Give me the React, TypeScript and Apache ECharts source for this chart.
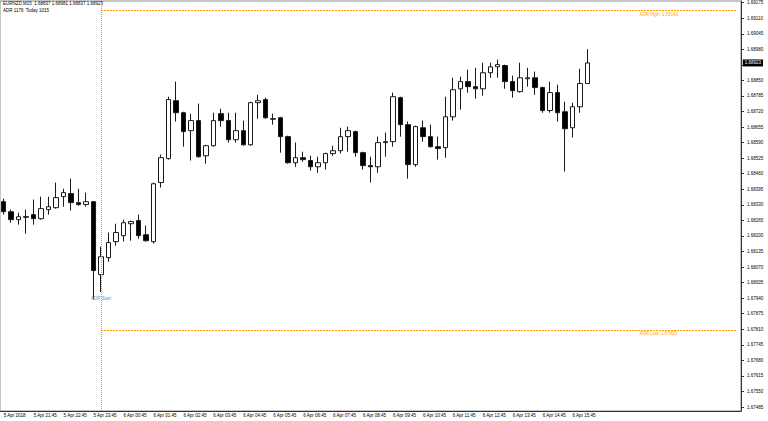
import React, { useEffect, useRef } from "react";
import * as echarts from "echarts";

const FONT = "'Liberation Sans', Arial, sans-serif";

const SYMBOL = "EURNZD,M15";
const ADR_POINTS = 1176;
const TODAY_POINTS = 1015;
const ADR_HIGH = 1.69142;
const ADR_LOW = 1.67805;
const ADR_START = 13; // bar index of 6 Apr 00:00

// 15 minute bars, 5 Apr 20:45 .. 6 Apr 16:15
const OPEN = [
  1.68343, 1.68301, 1.68268, 1.6828, 1.68289, 1.68272, 1.6831, 1.68318, 1.68364, 1.68377,
  1.68339, 1.68331, 1.68343, 1.68038, 1.68109, 1.68176, 1.68201, 1.68251, 1.68264, 1.68205,
  1.68176, 1.68423, 1.68523, 1.68765, 1.68715, 1.6864, 1.68682, 1.68535, 1.68577, 1.68711,
  1.68682, 1.68602, 1.6864, 1.68581, 1.68757, 1.6877, 1.6869, 1.68694, 1.68615, 1.68506,
  1.68527, 1.68515, 1.68489, 1.68506, 1.68544, 1.68556, 1.68615, 1.68636, 1.68548, 1.68494,
  1.68489, 1.6859, 1.68594, 1.68778, 1.68665, 1.68498, 1.68652, 1.68615, 1.68573, 1.68569,
  1.68698, 1.68815, 1.68845, 1.68824, 1.68815, 1.68882, 1.68907, 1.68912, 1.68845, 1.68803,
  1.68857, 1.68861, 1.6882, 1.68724, 1.68799, 1.68719, 1.68652, 1.6874, 1.68837,
];
const HIGH = [
  1.68356, 1.6831, 1.68297, 1.6831, 1.68352, 1.68364, 1.68364, 1.68423, 1.68397, 1.68439,
  1.68397, 1.68381, 1.68345, 1.68155, 1.68214, 1.68251, 1.68268, 1.68264, 1.68289, 1.68243,
  1.68423, 1.6854, 1.68782, 1.68845, 1.68719, 1.68711, 1.68753, 1.68581, 1.68715, 1.68732,
  1.68715, 1.68715, 1.68682, 1.68761, 1.6879, 1.68778, 1.68711, 1.68698, 1.68619, 1.6859,
  1.68552, 1.68535, 1.68531, 1.68548, 1.68577, 1.68652, 1.68657, 1.6864, 1.68552, 1.68531,
  1.68615, 1.68632, 1.68799, 1.68782, 1.68678, 1.68661, 1.68682, 1.68665, 1.68615, 1.68782,
  1.68861, 1.68866, 1.68895, 1.68903, 1.68924, 1.68924, 1.68937, 1.68916, 1.6887, 1.68924,
  1.68903, 1.68887, 1.68824, 1.68845, 1.68832, 1.68761, 1.68757, 1.68899, 1.68981,
];
const LOW = [
  1.68289, 1.68255, 1.68247, 1.68209, 1.68247, 1.68268, 1.68289, 1.68314, 1.68322, 1.68306,
  1.68326, 1.68322, 1.67934, 1.67966, 1.68092, 1.68159, 1.68176, 1.6818, 1.68188, 1.68176,
  1.68168, 1.68402, 1.68519, 1.68678, 1.68573, 1.68515, 1.68527, 1.68502, 1.68573, 1.68657,
  1.6859, 1.6859, 1.68577, 1.68577, 1.6869, 1.6869, 1.68665, 1.68548, 1.68502, 1.68489,
  1.6851, 1.68473, 1.68464, 1.68477, 1.68535, 1.68544, 1.68552, 1.68531, 1.68477, 1.68423,
  1.68464, 1.68531, 1.68573, 1.68615, 1.68439, 1.68489, 1.68594, 1.68569, 1.68519, 1.68527,
  1.68682, 1.68728, 1.68799, 1.68774, 1.68786, 1.68861, 1.68861, 1.68815, 1.68778, 1.68799,
  1.68824, 1.6879, 1.68715, 1.68715, 1.68678, 1.68469, 1.68611, 1.68715, 1.68837,
];
const CLOSE = [
  1.68301, 1.68268, 1.6828, 1.68278, 1.68272, 1.68314, 1.68322, 1.6836, 1.68381, 1.68339,
  1.68331, 1.68343, 1.68055, 1.68113, 1.68172, 1.68214, 1.68255, 1.6826, 1.68201, 1.6818,
  1.68418, 1.68527, 1.6877, 1.68715, 1.68636, 1.68682, 1.68531, 1.68577, 1.68682, 1.68682,
  1.68602, 1.6864, 1.68581, 1.68757, 1.68765, 1.68694, 1.68688, 1.68615, 1.68506, 1.68527,
  1.68519, 1.68489, 1.68506, 1.68544, 1.68556, 1.68615, 1.6864, 1.68548, 1.68494, 1.68489,
  1.6859, 1.68594, 1.68782, 1.68665, 1.68498, 1.68657, 1.68615, 1.68573, 1.68565, 1.68698,
  1.68811, 1.68845, 1.68824, 1.68815, 1.68882, 1.68907, 1.68916, 1.68845, 1.68807, 1.68861,
  1.68861, 1.6882, 1.68724, 1.68799, 1.68715, 1.68648, 1.6874, 1.68837, 1.68923,
];

// price scale
const AXIS_MIN = 1.67468;
const AXIS_MAX = 1.69182;
const LABEL_MIN = 1.67485;
const LABEL_STEP = 0.00065;

const EMPTY_SLOTS = 20; // room on the right of the last bar
const pad = (n: number) => String(n).padStart(2, "0");
const CATS = Array.from({ length: OPEN.length + EMPTY_SLOTS }, (_, i) => {
  const t = 20 * 60 + 45 + i * 15;
  const day = 5 + Math.floor(t / 1440);
  const m = t % 1440;
  return `${day} Apr ${pad(Math.floor(m / 60))}:${pad(m % 60)}`;
});

const App = () => {
  const chartRef = useRef<HTMLDivElement>(null);

  useEffect(() => {
    if (!chartRef.current) return;
    const chart = echarts.init(chartRef.current, null, { renderer: "svg" });

    const last = OPEN.length - 1;
    const lastClose = CLOSE[last];
    const hourly = (i: number) => i % 4 === 0 && i <= last;
    const fmt = (v: number) => v.toFixed(5);
    const small = { fontSize: 4.5, fontFamily: FONT };
    const adrLine = { color: "#ff9900", type: [2, 1], width: 1, opacity: 1 };

    const option = {
      animation: false,
      backgroundColor: "#fff",
      textStyle: { fontFamily: FONT },
      graphic: [
        {
          type: "text",
          left: 3,
          top: 1,
          style: {
            text: `${SYMBOL}  ${fmt(OPEN[last])} ${fmt(HIGH[last])} ${fmt(LOW[last])} ${fmt(lastClose)}`,
            ...small,
            fill: "#000",
          },
        },
        {
          type: "text",
          left: 3,
          top: 8,
          style: { text: `ADR ${ADR_POINTS}  Today ${TODAY_POINTS}`, ...small, fill: "#000" },
        },
      ],
      grid: [
        { left: 0, right: 27, top: 1, bottom: 10, show: true, borderColor: "#8c8c8c", borderWidth: 1 },
        { left: 0, right: 27, top: 1, bottom: 14 },
      ],
      xAxis: [
        {
          type: "category",
          gridIndex: 0,
          data: CATS,
          boundaryGap: true,
          axisLine: { lineStyle: { color: "#333", width: 1 } },
          axisTick: { alignWithLabel: true, interval: hourly, length: 3, lineStyle: { color: "#333" } },
          axisLabel: {
            interval: hourly,
            formatter: (v: string, i: number) => (i === 0 ? "5 Apr 2018" : v),
            align: "left",
            margin: 2,
            color: "#000",
            ...small,
          },
          splitLine: { show: false },
        },
        { type: "category", gridIndex: 1, show: false, data: [""] },
      ],
      yAxis: [
        {
          type: "value",
          gridIndex: 0,
          position: "right",
          min: AXIS_MIN,
          max: AXIS_MAX,
          axisLine: { show: true, onZero: false, lineStyle: { color: "#333", width: 1 } },
          axisTick: { show: false },
          axisLabel: { show: false },
          splitLine: { show: false },
        },
        {
          type: "value",
          gridIndex: 1,
          position: "right",
          min: LABEL_MIN,
          max: AXIS_MAX,
          interval: LABEL_STEP,
          axisLine: { show: false, onZero: false },
          axisTick: { show: true, length: 3, lineStyle: { color: "#333" } },
          axisLabel: {
            showMaxLabel: false,
            margin: 6,
            color: "#000",
            ...small,
            formatter: (v: number) => (Math.abs(v - lastClose) < 0.0003 ? "" : fmt(v)),
          },
          splitLine: { show: false },
        },
      ],
      series: [
        {
          type: "candlestick",
          xAxisIndex: 0,
          yAxisIndex: 0,
          barWidth: 5,
          data: OPEN.map((o, i) => [o, CLOSE[i], LOW[i], HIGH[i]]),
          itemStyle: {
            color: "#fff",
            color0: "#000",
            borderColor: "#1a1a1a",
            borderColor0: "#1a1a1a",
            borderWidth: 1,
          },
          markLine: {
            silent: true,
            symbol: ["none", "none"],
            label: { show: false },
            lineStyle: adrLine,
            data: [
              [
                { coord: [CATS[ADR_START], ADR_HIGH], lineStyle: adrLine },
                { coord: [CATS[CATS.length - 1], ADR_HIGH], lineStyle: adrLine },
              ],
              [
                { coord: [CATS[ADR_START], ADR_LOW], lineStyle: adrLine },
                { coord: [CATS[CATS.length - 1], ADR_LOW], lineStyle: adrLine },
              ],
              {
                xAxis: CATS[ADR_START],
                lineStyle: { color: "#a0a0a0", type: "dotted", width: 1 },
              },
            ],
          },
          markPoint: {
            silent: true,
            symbol: "rect",
            symbolSize: 1,
            itemStyle: { color: "rgba(0,0,0,0)" },
            data: [
              {
                coord: [CATS[85], ADR_HIGH],
                label: {
                  formatter: `ADR High: ${fmt(ADR_HIGH)}`,
                  position: [0, 1.5],
                  align: "left",
                  verticalAlign: "top",
                  color: "#ffa500",
                  ...small,
                },
              },
              {
                coord: [CATS[85], ADR_LOW],
                label: {
                  formatter: `ADR Low: ${fmt(ADR_LOW)}`,
                  position: [0, 1.5],
                  align: "left",
                  verticalAlign: "top",
                  color: "#ffa500",
                  ...small,
                },
              },
              {
                coord: [CATS[ADR_START], 1.67938],
                label: { formatter: "ADR Start", position: "inside", color: "#5b9bc8", ...small },
              },
              {
                coord: [CATS[CATS.length - 1], lastClose],
                label: {
                  formatter: fmt(lastClose),
                  position: [6, 0.5],
                  align: "left",
                  verticalAlign: "middle",
                  backgroundColor: "#000",
                  color: "#fff",
                  padding: [1, 2],
                  ...small,
                },
              },
            ],
          },
        },
      ],
    };

    chart.setOption(option);
    return () => chart.dispose();
  }, []);

  return (
    <div
      ref={chartRef}
      style={{ position: "fixed", left: 0, top: 0, width: 768, height: 421, background: "#fff" }}
    />
  );
};

export default App;
